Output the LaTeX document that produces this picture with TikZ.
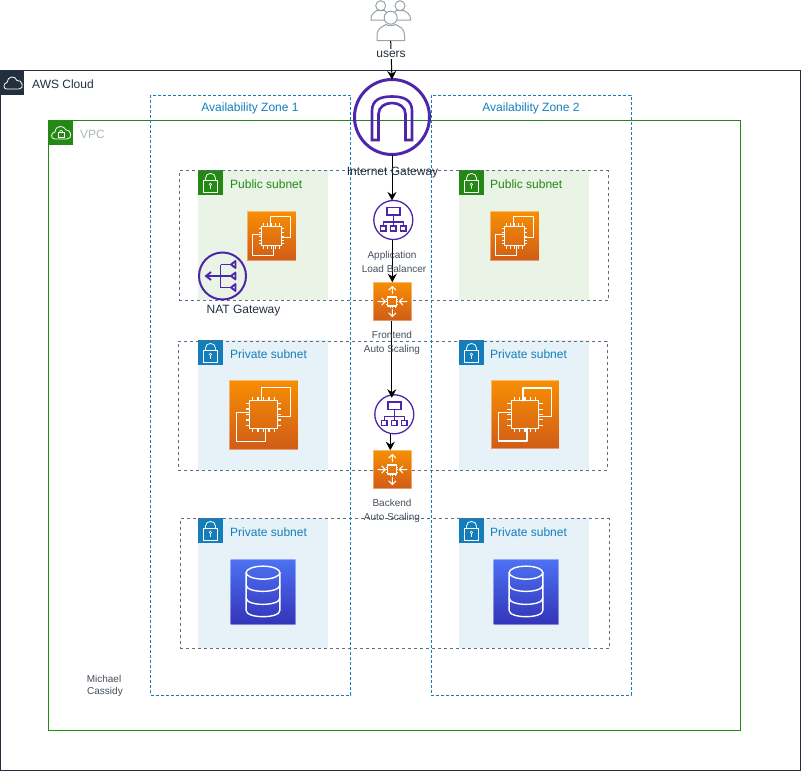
\documentclass[tikz,border=0pt]{standalone}
\usepackage{fontspec}
\setmainfont{Liberation Sans}
\usetikzlibrary{arrows.meta}
\definecolor{awsdark}{HTML}{232F3E}
\definecolor{awsgreen}{HTML}{248814}
\definecolor{awsblue}{HTML}{147EBA}
\definecolor{pubfill}{HTML}{E9F3E6}
\definecolor{privfill}{HTML}{E6F2F8}
\definecolor{purp}{HTML}{4D27AA}
\definecolor{dashgrey}{HTML}{5A6C86}
\definecolor{vpcgrey}{HTML}{AAB7B8}
\definecolor{usergrey}{HTML}{99A3A8}
\definecolor{ortop}{HTML}{F78E04}
\definecolor{orbot}{HTML}{D05C17}
\definecolor{dbtop}{HTML}{4D72F3}
\definecolor{dbbot}{HTML}{3334B9}
\tikzset{
  outline/.style={rectangle,inner sep=0pt,outer sep=0pt,line width=.8pt,anchor=north west},
  zone/.style={outline,draw=awsblue,dash pattern=on 3pt off 2pt},
  dashbox/.style={outline,draw=dashgrey,dash pattern=on 3pt off 3pt},
  subnet/.style={rectangle,inner sep=0pt,outer sep=0pt,anchor=north west,minimum width=130pt,minimum height=130pt},
  tagbox/.style={rectangle,inner sep=0pt,outer sep=0pt,anchor=north west,minimum size=25pt},
  orange/.style={rectangle,inner sep=0pt,outer sep=0pt,top color=ortop,bottom color=orbot,draw=white,draw opacity=.4,line width=.7pt},
  bluebox/.style={rectangle,inner sep=0pt,outer sep=0pt,top color=dbtop,bottom color=dbbot,draw=white,draw opacity=.4,line width=.7pt},
  ring/.style={circle,draw=purp,inner sep=0pt,outer sep=0pt},
  lab/.style={inner sep=0pt,font=\fontsize{12pt}{14pt}\selectfont,text=awsdark},
  small/.style={inner sep=0pt,font=\fontsize{10pt}{12pt}\selectfont,text=awsdark!85},
  conn/.style={draw=black,line width=1pt,-{Stealth[length=8.5pt,width=9pt]}},
  iconw/.style={draw=white,line width=#1,line join=round,line cap=round},
}
\newcommand{\lockicon}[2]{%
  \begin{scope}[shift={(#1,#2)}]
    \draw[iconw=.8pt,line cap=butt] (5.7,10.3) rectangle (19,22.3);
    \draw[iconw=.8pt] (7.5,10.3) -- (7.5,8) .. controls (7.5,2) and (17.5,2) .. (17.5,8) -- (17.5,10.3);
    \draw[iconw=.6pt] (12.4,14.4) circle (1.3);
    \draw[iconw=.6pt] (12.4,15.7) -- (12.4,18.5);
  \end{scope}}
\newcommand{\ecicon}[4]{%
  \begin{scope}[shift={(#1,#2)},x=#3pt/100,y=-#3pt/100]
    \draw[iconw=#4] (47,30) -- (47,11) -- (89,11) -- (89,53) -- (70,53);
    \draw[iconw=#4] (30,47) -- (11,47) -- (11,89) -- (53,89) -- (53,70);
    \draw[iconw=#4] (30,30) rectangle (70,70);
    \foreach \p in {34,42,50,58,66}{
      \draw[iconw=#4,line cap=butt] (\p,30) -- (\p,24);
      \draw[iconw=#4,line cap=butt] (\p,70) -- (\p,76);
      \draw[iconw=#4,line cap=butt] (30,\p) -- (24,\p);
      \draw[iconw=#4,line cap=butt] (70,\p) -- (76,\p);
    }
  \end{scope}}
\newcommand{\scaleicon}[2]{%
  \begin{scope}[shift={(#1,#2)}]
    \draw[iconw=1.2pt,line cap=butt] (-4.5,-4.5) rectangle (4.5,4.5);
    \foreach \p in {-2.5,0,2.5}{
      \draw[iconw=.6pt,line cap=butt] (\p,-4.5) -- (\p,-6);
      \draw[iconw=.6pt,line cap=butt] (\p,4.5) -- (\p,6);
      \draw[iconw=.6pt,line cap=butt] (-4.5,\p) -- (-6,\p);
      \draw[iconw=.6pt,line cap=butt] (4.5,\p) -- (6,\p);
    }
    \draw[iconw=1pt] (0,-8) -- (0,-15) (-3.5,-11.5) -- (0,-15) -- (3.5,-11.5);
    \draw[iconw=1pt] (0,8) -- (0,15) (-3.5,11.5) -- (0,15) -- (3.5,11.5);
    \draw[iconw=1pt] (-14.5,0) -- (-7,0) (-10.5,-3.5) -- (-7,0) -- (-10.5,3.5);
    \draw[iconw=1pt] (14.5,0) -- (7,0) (10.5,-3.5) -- (7,0) -- (10.5,3.5);
  \end{scope}}
\newcommand{\dbicon}[3]{%
  \begin{scope}[shift={(#1,#2)},x=#3pt/100,y=-#3pt/100]
    \draw[iconw=1.4pt] (50,21) ellipse [x radius=26,y radius=10];
    \draw[iconw=1.4pt] (24,21) -- (24,79) .. controls (24,92) and (76,92) .. (76,79) -- (76,21);
    \draw[iconw=1.4pt] (24,40) .. controls (24,53) and (76,53) .. (76,40);
    \draw[iconw=1.4pt] (24,60) .. controls (24,73) and (76,73) .. (76,60);
  \end{scope}}
\newcommand{\albicon}[2]{%
  \begin{scope}[shift={(#1,#2)},purp,line width=1.4pt]
    \draw (-6.5,-12.5) rectangle (6.5,-5);
    \draw (0,-5) -- (0,6);
    \draw (-10,6) -- (-10,2) -- (10,2) -- (10,6);
    \foreach \p in {-10,0,10}{\draw (\p-2.8,6) rectangle (\p+2.8,11);}
  \end{scope}}
\begin{document}
\begin{tikzpicture}[x=1pt,y=-1pt]
\useasboundingbox (0,0) rectangle (801,771);
\node[outline,draw=awsdark,minimum width=800pt,minimum height=699.5pt] (aws) at (.5,70.5) {};
\node[tagbox,fill=awsdark,minimum size=23.5pt] (awstag) at (0,71) {};
\draw[iconw=.8pt] (6.5,89) .. controls (3,89) and (3,83) .. (7,82.5) .. controls (7.5,76) and (15,75) .. (17,80.5) .. controls (22,79) and (25,89) .. (19,89) -- cycle;
\node[lab,anchor=west] (awslab) at (32,84) {AWS Cloud};
\node[outline,draw=awsgreen,minimum width=692pt,minimum height=610pt] (vpc) at (48.5,120.5) {};
\node[tagbox,fill=awsgreen] (vpctag) at (48,120) {};
\draw[iconw=.8pt] (54.5,139) .. controls (50.5,139) and (50.5,132.5) .. (55,132) .. controls (55.5,125) and (64,125) .. (66,130) .. controls (71,129) and (73,139) .. (67,139) -- cycle;
\draw[iconw=.7pt,line cap=butt] (58.2,132.8) rectangle (64,137);
\draw[iconw=.7pt] (59.5,132.8) .. controls (59.5,129.5) and (62.7,129.5) .. (62.7,132.8);
\node[lab,anchor=west,text=vpcgrey] (vpclab) at (80,134) {VPC};
\node[subnet,fill=pubfill] (pub1) at (198,170) {};
\node[subnet,fill=pubfill] (pub2) at (459,170) {};
\node[subnet,fill=privfill] (pri1) at (198,340) {};
\node[subnet,fill=privfill] (pri2) at (459,340) {};
\node[subnet,fill=privfill] (pri3) at (198,518) {};
\node[subnet,fill=privfill] (pri4) at (459,518) {};
\foreach \n/\x/\y/\c in {t1/198/170/awsgreen,t2/459/170/awsgreen,t3/198/340/awsblue,t4/459/340/awsblue,t5/198/518/awsblue,t6/459/518/awsblue}{
  \node[tagbox,fill=\c] (\n) at (\x,\y) {};
  \lockicon{\x}{\y}
}
\node[lab,anchor=west,text=awsgreen] (l1) at (230,184) {Public subnet};
\node[lab,anchor=west,text=awsgreen] (l2) at (490,184) {Public subnet};
\node[lab,anchor=west,text=awsblue] (l3) at (230,354) {Private subnet};
\node[lab,anchor=west,text=awsblue] (l4) at (490,354) {Private subnet};
\node[lab,anchor=west,text=awsblue] (l5) at (230,532) {Private subnet};
\node[lab,anchor=west,text=awsblue] (l6) at (490,532) {Private subnet};
\node[dashbox,minimum width=429pt,minimum height=130pt] (band1) at (179,170.5) {};
\node[dashbox,minimum width=429pt,minimum height=129pt] (band2) at (178,341) {};
\node[dashbox,minimum width=429pt,minimum height=130pt] (band3) at (180,518.5) {};
\node[zone,minimum width=200pt,minimum height=600pt] (az1) at (150.5,95) {};
\node[zone,minimum width=200pt,minimum height=600pt] (az2) at (431,95) {};
\node[lab,text=awsblue] (az1lab) at (250,108.5) {Availability Zone 1};
\node[lab,text=awsblue] (az2lab) at (531,108.5) {Availability Zone 2};
\node[orange,anchor=north west,minimum size=49pt] (ec1) at (247,211.5) {};
\ecicon{247}{211.5}{49}{.8pt}
\node[orange,anchor=north west,minimum size=49pt] (ec2) at (490,211.5) {};
\ecicon{490}{211.5}{49}{.8pt}
\node[orange,anchor=north west,minimum size=69pt] (ec3) at (229,380) {};
\ecicon{229}{380}{69}{1.1pt}
\node[orange,anchor=north west,minimum size=68pt] (ec4) at (491,380.5) {};
\ecicon{491}{380.5}{68}{1.1pt}
\node[bluebox,anchor=north west,minimum size=65pt] (db1) at (230.5,559) {};
\dbicon{230.5}{559}{65}
\node[bluebox,anchor=north west,minimum size=65pt] (db2) at (493.5,559) {};
\dbicon{493.5}{559}{65}
\node[ring,line width=2pt,minimum size=47pt] (nat) at (222.5,276) {};
\begin{scope}[shift={(222.5,276)},purp,line width=1.8pt]
  \draw (-16,0) -- (8,0) (-2,-11.5) -- (-2,11.5) (-2,-11.5) -- (8,-11.5) (-2,11.5) -- (8,11.5);
  \draw (-11.5,-4) -- (-16.5,0) -- (-11.5,4);
  \foreach \p in {-11.5,0,11.5}{\draw[line join=round] (8.5,\p) -- (13,\p-3.5) -- (13,\p+3.5) -- cycle;}
\end{scope}
\node[lab] (natlab) at (243.5,311) {NAT Gateway};
\node[inner sep=0pt,outer sep=0pt,minimum width=40pt,minimum height=41pt] (usr) at (390.7,20.5) {};
\begin{scope}[draw=usergrey,line width=1pt,fill=white]
  \draw (380.7,5.7) circle (5);
  \draw (400,5.7) circle (5);
  \draw[fill=white] (371,20) .. controls (371,13) and (375,12) .. (377,10.5) -- (384.5,10.5) .. controls (387,12) and (390,14) .. (390,20) -- cycle;
  \draw[fill=white] (392,20) .. controls (392,14) and (394,12) .. (396.5,10.5) -- (403.5,10.5) .. controls (406,12) and (410.5,13) .. (410.5,20) -- cycle;
  \draw[fill=white] (390.7,17.7) circle (6.5);
  \draw[fill=white] (377,40.5) -- (377,36) .. controls (377,28) and (382,27) .. (386,24.5) .. controls (388,26) and (393,26) .. (395.5,24.5) .. controls (400,27) and (404.5,28) .. (404.5,36) -- (404.5,40.5) -- cycle;
\end{scope}
\node[ring,line width=3pt,minimum size=75pt] (igw) at (392,117) {};
\draw[purp,line width=2.6pt,line join=miter,shift={(392,117)}]
  (-20,23) -- (-20,-6) .. controls (-20,-17) and (-12,-20.5) .. (0,-20.5) .. controls (12,-20.5) and (20,-17) .. (20,-6) -- (20,23) -- (13.5,23) -- (13.5,-3) .. controls (13.5,-10) and (7,-14) .. (0,-14) .. controls (-7,-14) and (-13.5,-10) .. (-13.5,-3) -- (-13.5,23) -- cycle;
\node[ring,line width=1.3pt,minimum size=39pt] (alb1) at (393.3,220) {};
\albicon{393.3}{220}
\node[ring,line width=1.3pt,minimum size=39pt] (alb2) at (394.3,414.3) {};
\albicon{394.3}{414.3}
\node[orange,minimum size=38.5pt] (front) at (392.3,301.5) {};
\scaleicon{392.3}{301.5}
\node[orange,minimum size=38.5pt] (back) at (392.3,469.5) {};
\scaleicon{392.3}{469.5}
\draw[conn] (usr.south) -- (igw.north);
\draw[conn] (igw.south) -- (igw.south |- alb1.north);
\draw[conn] ([xshift=-1pt]alb1.south) -- ([xshift=0pt]front.north);
\draw[conn] ([xshift=-.5pt]front.south) -- ([xshift=-2.5pt,yshift=-3pt]alb2.north);
\draw[conn] ([xshift=-4pt]alb2.south) -- ([xshift=-2pt]back.north);
\node[lab,fill=white,inner xsep=1pt,inner ysep=2pt] (usrlab) at (391,54) {users};
\node[lab] (igwlab) at (392.5,173) {Internet Gateway};
\node[small] (a1) at (392,255.5) {Application};
\node[small] (a2) at (394,268.5) {Load Balancer};
\node[small] (f1) at (392,335) {Frontend};
\node[small] (f2) at (392,350) {Auto Scaling};
\node[small] (b1) at (392,503) {Backend};
\node[small] (b2) at (392,518) {Auto Scaling};
\node[small] (m1) at (104,679) {Michael};
\node[small] (m2) at (105,692) {Cassidy};
\end{tikzpicture}
\end{document}
